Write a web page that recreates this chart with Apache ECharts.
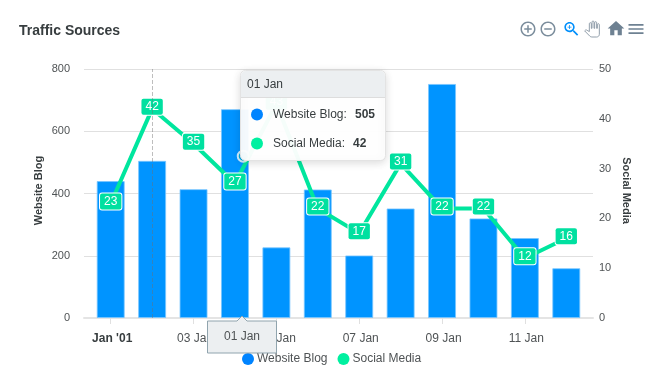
<!DOCTYPE html>
<html>
<head>
<meta charset="utf-8">
<style>html,body{margin:0;padding:0;background:#fff}#c{width:648px;height:372px}</style>
<script src="https://cdn.jsdelivr.net/npm/echarts@6/dist/echarts.min.js"></script>
</head>
<body>
<div id="c"></div>
<script>
const categories = ["Jan '01","02 Jan","03 Jan","04 Jan","05 Jan","06 Jan","07 Jan","08 Jan","09 Jan","10 Jan","11 Jan","12 Jan"];
const blogValues = [440,505,414,671,227,413,201,352,752,320,257,160];
const socialValues = [23,42,35,27,43,22,17,31,22,22,12,16];
const blogName = 'Website Blog';
const socialName = 'Social Media';
const hoverIndex = 1;
const hoverLabel = '01 Jan';
const hoverMarker = [[3.2, 32.5]];

const FONT = 'Liberation Sans, Arial, Helvetica, sans-serif';
const TEXT = '#373d3f';
const AXIS_TEXT = '#4f5355';
const BLUE_DOT = '#0084FF';
const GREEN_DOT = '#00F0A0';
const GREEN = '#00E69E';
const Z = 100;

const icons = {
  plus: 'M13 7h-2v4H7v2h4v4h2v-4h4v-2h-4V7zm-1-5C6.48 2 2 6.48 2 12s4.48 10 10 10 10-4.48 10-10S17.52 2 12 2zm0 18c-4.41 0-8-3.59-8-8s3.59-8 8-8 8 3.59 8 8-3.59 8-8 8z',
  minus: 'M7 11v2h10v-2H7zm5-9C6.48 2 2 6.48 2 12s4.48 10 10 10 10-4.48 10-10S17.52 2 12 2zm0 18c-4.41 0-8-3.59-8-8s3.59-8 8-8 8 3.59 8 8-3.59 8-8 8z',
  zoom: 'M15.5 14h-.79l-.28-.27C15.41 12.59 16 11.11 16 9.5 16 5.91 13.09 3 9.5 3S3 5.91 3 9.5 5.91 16 9.5 16c1.61 0 3.09-.59 4.23-1.57l.27.28v.79l5 4.99L20.49 19l-4.99-5zm-6 0C7.01 14 5 11.99 5 9.5S7.01 5 9.5 5 14 7.01 14 9.5 11.99 14 9.5 14z M12 10h-2v2H9v-2H7V9h2V7h1v2h2v1z',
  hand: 'M23 5.5V20c0 2.2-1.8 4-4 4h-7.3c-1.08 0-2.1-.43-2.85-1.19L1 14.83s1.26-1.23 1.3-1.25c.22-.19.49-.29.79-.29.22 0 .42.06.6.16.04.01 4.31 2.46 4.31 2.46V4c0-.83.67-1.5 1.5-1.5S11 3.17 11 4v7h1V1.5c0-.83.67-1.5 1.5-1.5S15 .67 15 1.5V11h1V2.5c0-.83.67-1.5 1.5-1.5s1.5.67 1.5 1.5V11h1V5.5c0-.83.67-1.5 1.5-1.5s1.5.67 1.5 1.5z',
  home: 'M10 20v-6h4v6h5v-8h3L12 3 2 12h3v8z',
  menu: 'M3 18h18v-2H3v2zm0-5h18v-2H3v2zm0-7v2h18V6H3z'
};
Object.keys(icons).forEach(k => echarts.graphic.registerShape('ic_' + k, echarts.graphic.extendPath(icons[k], {})));
function icon(k, cx, cy, size, style) {
  const s = size / 24;
  return {type:'ic_' + k, z:Z, x:cx - size/2, y:cy - size/2, scaleX:s, scaleY:s, style};
}
function txt(text, x, y, extra) {
  return {type:'text', z:Z+2, x, y, style:Object.assign({text, fill:TEXT, font:'12px '+FONT, textVerticalAlign:'middle'}, extra||{})};
}

const graphicEls = [
  {type:'text', z:Z, x:19, y:31, style:{text:'Traffic Sources', fill:TEXT, font:'bold 14px '+FONT, textVerticalAlign:'middle'}},
  icon('plus', 528, 29, 18, {fill:'#7B8D9C'}),
  icon('minus', 548, 29, 18, {fill:'#7B8D9C'}),
  icon('zoom', 571.5, 29, 19, {fill:'#008FFB'}),
  icon('hand', 592, 29, 16, {fill:'#fff', stroke:'#8a98a5', lineWidth:1.4}),
  icon('home', 616, 28.5, 20, {fill:'#6E8192'}),
  icon('menu', 636, 29, 20, {fill:'#6E8192'}),
  {type:'polygon', z:Z, shape:{points:[[207.5,321],[237,321],[242,316],[247,321],[276.5,321],[276.5,353],[207.5,353]]},
    style:{fill:'#ECEFF1', stroke:'#90A4AE', lineWidth:1}},
  txt(hoverLabel, 242, 337, {textAlign:'center', fill:AXIS_TEXT}),
  {type:'rect', z:Z, shape:{x:240.5, y:70.5, width:145, height:90, r:5},
    style:{fill:'rgba(255,255,255,0.96)', stroke:'#e3e3e3', lineWidth:1, shadowBlur:8, shadowColor:'rgba(0,0,0,0.14)', shadowOffsetY:2}},
  {type:'rect', z:Z+1, shape:{x:241, y:71, width:144, height:26, r:[5,5,0,0]}, style:{fill:'#ECEFF1'}},
  {type:'line', z:Z+1, shape:{x1:241, y1:97.5, x2:385, y2:97.5}, style:{stroke:'#dddddd', lineWidth:1}},
  txt(hoverLabel, 247, 84.5),
  {type:'circle', z:Z+1, shape:{cx:257, cy:114.5, r:6}, style:{fill:BLUE_DOT}},
  txt(blogName + ':', 273, 115),
  txt(String(blogValues[hoverIndex]), 355, 115, {font:'bold 12px '+FONT}),
  {type:'circle', z:Z+1, shape:{cx:257, cy:143.5, r:6}, style:{fill:GREEN_DOT}},
  txt(socialName + ':', 273, 144),
  txt(String(socialValues[hoverIndex]), 353, 144, {font:'bold 12px '+FONT})
];

const chart = echarts.init(document.getElementById('c'), null, {renderer:'canvas'});
chart.setOption({
  animation:false,
  backgroundColor:'#fff',
  textStyle:{fontFamily:FONT, color:TEXT},
  grid:[
    {left:90, right:61, top:69, bottom:54},
    {left:84, right:55, top:69, bottom:54}
  ],
  legend:{
    data:[
      {name:blogName, itemStyle:{color:BLUE_DOT, borderWidth:0}},
      {name:socialName, itemStyle:{color:GREEN_DOT, borderWidth:0}}
    ],
    left:237, top:348, icon:'circle',
    itemWidth:12, itemHeight:12, itemGap:10,
    textStyle:{color:AXIS_TEXT, fontSize:12, fontFamily:FONT, padding:[0,0,0,-2]}
  },
  xAxis:[
    {type:'category', gridIndex:0, data:categories, position:'bottom',
      axisLine:{show:false},
      axisTick:{show:true, alignWithLabel:true, interval:1, length:6, lineStyle:{color:'#e0e0e0'}},
      axisLabel:{interval:1, margin:15, fontSize:12, color:AXIS_TEXT, fontFamily:FONT, padding:[0,0,0,3],
        formatter:(v,i)=> i===0 ? '{b|'+v+'}' : v,
        rich:{b:{fontWeight:'bold', fontSize:12, color:TEXT, fontFamily:FONT}}}},
    {type:'value', gridIndex:0, min:-0.5, max:11.5, show:false, position:'top'},
    {type:'category', gridIndex:1, data:categories, position:'bottom',
      axisLine:{show:true, lineStyle:{color:'#e4e4e4', width:2}},
      axisTick:{show:false}, axisLabel:{show:false}}
  ],
  yAxis:[
    {type:'value', gridIndex:0, min:0, max:800, interval:200, show:false, splitLine:{show:false}},
    {type:'value', gridIndex:0, min:0, max:50, interval:10, show:false, splitLine:{show:false}},
    {type:'value', gridIndex:1, min:0, max:800, interval:200, position:'left',
      axisLine:{show:false}, axisTick:{show:false},
      axisLabel:{margin:14, fontSize:11, color:AXIS_TEXT, fontFamily:FONT, padding:[0,0,3,0]},
      splitLine:{show:true, lineStyle:{color:'#e0e0e0', width:1}},
      name:blogName, nameLocation:'middle', nameGap:40, nameRotate:90, nameMoveOverlap:false,
      nameTextStyle:{fontSize:11, fontWeight:'bold', color:TEXT, fontFamily:FONT, padding:[0,0,0,6]}},
    {type:'value', gridIndex:1, min:0, max:50, interval:10, position:'right',
      axisLine:{show:false}, axisTick:{show:false},
      axisLabel:{margin:6, fontSize:11, color:AXIS_TEXT, fontFamily:FONT, padding:[0,0,3,0]},
      splitLine:{show:false},
      name:socialName, nameLocation:'middle', nameGap:28, nameRotate:-90, nameMoveOverlap:false,
      nameTextStyle:{fontSize:11, fontWeight:'bold', color:TEXT, fontFamily:FONT, padding:[0,6,0,0]}}
  ],
  series:[
    {name:blogName, type:'bar', xAxisIndex:0, yAxisIndex:0, data:blogValues, barWidth:28,
      itemStyle:{color:'#0094FF', borderColor:'rgba(120,198,255,0.8)', borderWidth:1},
      markLine:{silent:true, symbol:'none', animation:false, label:{show:false},
        lineStyle:{color:'rgba(110,110,110,0.45)', type:'dashed', width:1},
        data:[{xAxis:categories[hoverIndex]}]}},
    {name:socialName, type:'line', xAxisIndex:0, yAxisIndex:1, data:socialValues,
      symbol:'circle', symbolSize:1, lineStyle:{color:GREEN, width:4}, itemStyle:{color:GREEN},
      label:{show:true, position:'inside', offset:[0,-2], color:'#fff', fontSize:12, fontFamily:FONT,
        backgroundColor:'#00E0A0', borderColor:'#fff', borderWidth:1, borderRadius:2, padding:[2,4]}},
    {name:'hover', type:'scatter', xAxisIndex:1, yAxisIndex:1, data:hoverMarker, symbolSize:11, z:5,
      itemStyle:{color:'rgba(0,227,150,0.35)', borderColor:'#fff', borderWidth:2}, silent:true}
  ],
  graphic:{elements:graphicEls}
});
</script>
</body>
</html>
